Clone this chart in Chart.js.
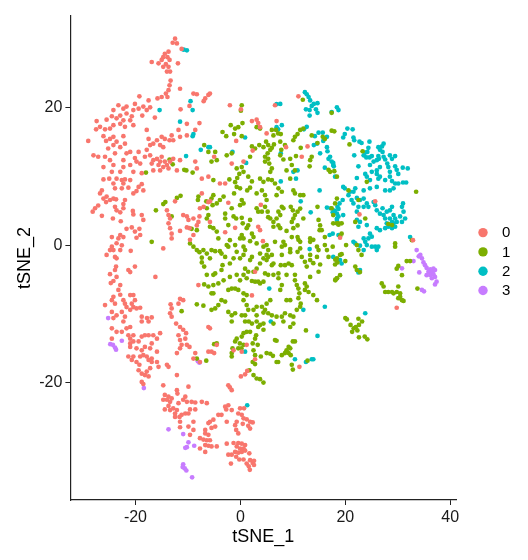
<!DOCTYPE html>
<html>
<head>
<meta charset="utf-8">
<script src="https://cdn.jsdelivr.net/npm/chart.js@4.4.0/dist/chart.umd.min.js"></script>
<style>
  html, body { margin: 0; padding: 0; background: #fff; }
  #wrap { position: relative; width: 528px; height: 560px; }
</style>
</head>
<body>
<div id="wrap"><canvas id="chart" width="528" height="560"></canvas></div>
<script>
// cluster labels + ggplot default hue colours
var clusterNames = ['0', '1', '2', '3'];
var clusterColors = ['#F8766D', '#7CAE00', '#00BFC4', '#C77CFF'];
var xTicks = [-20, 0, 20, 40];
var yTicks = [-20, 0, 20];

// tSNE coordinates, [tSNE_1, tSNE_2]
var cluster0 = [
[-12.45,30.1],[-12.9,29.5],[-12.1,29.4],[-11.2,28.6],[-14.4,27.9],[-13.7,28.2],[-13.9,27.4],[-13.5,27.0],[-14.7,27.4],[-15.0,27.0],[-16.9,26.7],[-15.6,26.5],[-11.9,26.5],[-14.2,26.4],[-13.7,26.0],[-14.7,26.0],[-13.4,25.3],[-14.0,25.3],[-13.3,24.0],[-13.5,23.3],[-13.7,22.6],[-14.2,22.1],[-15.0,21.6],[-15.8,21.4],[-11.5,22.8],[-13.9,21.6],
[-8.95,22.1],[-8.3,22.0],[-6.1,21.9],[-6.7,21.4],[-7.0,21.0],[-9.7,20.3],[-11.4,19.8],[-17.5,21.1],[-19.25,21.7],
[-23.25,20.4],[-24.2,19.7],[-22.3,19.9],[-21.7,20.2],[-20.1,20.6],[-20.4,19.7],[-19.4,19.9],[-18.5,20.2],[-17.85,19.7],[-17.2,20.1],[-16.3,18.6],[-18.7,18.9],[-20.7,18.8],[-21.7,19.2],[-22.9,18.9],[-23.6,18.5],[-24.5,18.8],[-25.5,18.3],[-27.4,18.1],[-26.75,17.25],[-27.5,16.9],[-25.8,16.9],[-24.85,17.0],[-24.2,17.5],[-22.9,17.7],[-22.0,17.25],[-21.0,18.2],[-20.4,17.5],[-22.3,18.2],[-29.0,15.2],[-26.1,15.9],[-24.85,15.5],[-24.2,15.8],[-25.6,15.2],[-23.6,15.1],[-22.3,15.9],[-22.0,14.8],[-22.9,14.3],[-24.2,14.6],[-25.2,14.1],[-23.9,13.4],[-25.8,12.9],[-28.0,13.1],[-27.1,12.9],[-24.85,12.4],[-24.2,11.7],[-26.1,11.4],[-24.5,10.7],[-22.3,12.4],[-21.7,13.4],[-21.0,13.6],[-20.1,12.7],[-19.8,12.2],[-22.3,11.4],[-22.9,10.7],[-21.0,11.7],[-19.1,11.9],[-19.4,13.6],[-17.85,16.8],[-17.5,15.5],[-17.2,14.6],[-17.85,13.9],[-16.6,14.8],[-15.9,15.3],[-15.0,15.8],[-14.4,15.5],[-15.3,14.6],[-14.7,14.3],[-13.1,16.0],[-13.5,15.3],[-12.8,15.3],[-11.8,16.8],[-11.5,15.8],[-10.2,16.0],[-8.6,16.8],[-7.8,17.8],[-10.2,17.7],
[-18.2,12.9],[-17.2,13.1],[-16.6,12.4],[-16.9,11.9],[-15.9,12.6],[-15.3,12.2],[-15.0,12.9],[-14.4,12.2],[-15.6,11.7],[-14.7,11.4],[-14.0,11.7],[-13.4,12.2],[-13.7,11.2],[-16.6,10.9],[-15.3,10.9],[-12.8,12.6],[-11.5,12.4],[-12.1,10.9],[-8.3,11.2],[-8.6,12.2],[-18.8,10.5],[-20.4,10.7],
[-5.8,22.1],[-2.0,20.4],[0.1,19.8],[-0.8,15.2],[2.2,18.1],[3.1,18.3],[3.4,17.8],[3.75,17.2],[6.9,18.1],[5.0,16.3],[2.35,13.8],[0.6,12.2],[-1.65,11.9],[-5.0,12.9],[11.7,12.9],[12.8,14.4],[11.06,21.7],[8.7,14.3],[6.6,20.4],
[-26.1,9.6],[-25.0,9.7],[-24.2,9.0],[-23.6,9.7],[-22.6,9.5],[-22.0,9.6],[-21.0,9.5],[-22.3,9.0],[-22.6,8.3],[-23.9,8.3],[-21.35,8.4],[-19.4,8.5],[-18.8,8.9],[-18.5,8.0],[-19.8,7.9],[-20.4,7.55],[-26.4,8.0],[-26.75,7.55],[-26.1,6.8],[-25.5,7.1],[-24.85,6.6],[-24.2,6.8],[-23.7,6.7],[-25.6,6.3],[-27.1,5.8],[-27.7,5.4],[-28.15,4.9],[-26.4,4.3],[-23.9,5.6],[-23.6,5.1],[-22.9,4.8],[-22.3,6.0],[-22.0,6.6],[-22.3,5.4],[-24.3,3.9],[-22.8,3.5],[-20.5,5.0],[-20.4,4.5],[-18.8,4.4],[-18.5,3.7],[-21.7,2.4],[-20.7,2.6],[-20.1,2.0],[-19.25,2.4],[-19.1,1.5],[-19.8,1.1],[-22.9,1.5],[-23.25,1.0],[-22.3,1.2],[-23.6,0.3],[-22.6,0.0],[-24.5,1.2],[-24.5,-0.2],[-24.85,-0.7],[-25.5,-1.4],[-24.2,-0.7],[-22.9,-0.7],[-20.9,-0.8],[-23.9,-1.7],[-23.6,-1.9],[-23.7,-3.1],[-23.9,-3.6],[-21.35,-3.6],[-21.0,-3.9],[-20.1,-3.1],[-24.85,-4.2],[-23.6,-4.6],[-24.2,-5.2],[-24.7,-5.5],[-22.9,-5.8],[-23.25,-6.5],[-22.9,-7.2],[-24.2,-7.5],[-24.5,-8.0],[-23.9,-8.5],[-22.3,-8.0],[-22.0,-8.5],[-21.7,-9.0],[-21.0,-7.25],[-20.4,-7.25],[-20.1,-8.0],[-20.7,-8.5],[-20.4,-9.0],[-21.0,-9.4],[-22.6,-9.7],[-23.6,-10.2],[-24.5,-9.7],[-25.8,-8.7],[-24.2,-10.6],[-22.0,-10.4],[-19.8,-9.2],[-19.1,-9.1],[-18.8,-10.4],[-16.9,-10.5],[-17.8,-10.6],[-16.2,-4.6],[-14.7,-0.45],[-14.0,5.1],[-13.7,4.4],[-13.4,3.9],[-12.45,6.4],[-10.9,4.4],[-10.2,4.2],[-9.9,3.7],[-8.95,3.9],[-7.8,4.2],[-8.0,3.4],[-8.3,2.9],[-13.7,3.2],[-13.4,2.5],[-13.1,1.7],[-13.1,1.0],[-11.5,2.1],[-9.7,2.5],[-8.95,1.5],[-9.6,0.8],[-10.2,2.6],[-7.35,7.55],[-7.0,5.6],[-6.1,6.3],[-7.7,5.4],[-7.35,9.7],[-6.1,10.0],[-8.0,-5.8],[-13.3,-8.6],[-13.1,-9.2],[-13.4,-9.9],[-11.5,-7.8],[-10.9,-8.0],[-11.8,-8.5],[-13.1,-10.4],
[-3.9,9.0],[-2.9,9.0],[-2.3,6.2],[-5.8,6.4],[3.9,5.9],[3.4,2.7],[3.75,2.2],[4.3,0.6],[-2.9,1.9],[-5.8,3.4],[-1.0,2.55],[2.2,-7.3],[2.8,-3.85],
[25.7,6.4],[22.7,4.5],[19.0,1.1],[29.8,-9.1],[32.9,0.75],
[-24.5,-12.1],[-23.6,-12.6],[-22.6,-12.6],[-21.7,-12.1],[-21.0,-11.9],[-21.35,-13.1],[-21.0,-13.6],[-20.4,-13.1],[-20.4,-14.0],[-21.0,-14.3],[-21.0,-14.8],[-19.8,-15.0],[-19.4,-14.0],[-18.8,-13.3],[-18.2,-13.1],[-17.5,-13.1],[-16.6,-13.1],[-15.9,-13.6],[-15.3,-12.8],[-16.9,-14.3],[-17.2,-15.0],[-18.2,-14.8],[-18.8,-15.3],[-18.5,-16.0],[-19.1,-16.2],[-17.85,-16.2],[-16.9,-16.5],[-16.9,-17.0],[-17.5,-16.7],[-15.9,-15.5],[-20.4,-16.2],[-20.7,-16.7],[-21.35,-16.2],[-19.8,-17.0],[-19.25,-17.4],[-19.4,-18.2],[-18.8,-18.7],[-18.2,-18.9],[-17.5,-19.1],[-17.85,-18.4],[-18.8,-19.9],[-18.5,-20.2],[-17.2,-17.9],[-15.9,-17.0],[-15.6,-17.7],[-14.0,-17.4],[-13.7,-17.7],[-12.1,-18.9],[-14.7,-20.4],[-9.9,-20.6],[-24.5,-13.6],[-22.3,-11.1],[-18.8,-11.1],[-17.5,-11.1],[-12.1,-15.7],[-11.5,-15.0],[-11.2,-14.5],[-11.5,-13.8],[-11.8,-13.1],[-10.5,-13.6],[-10.2,-14.5],[-9.7,-14.8],[-8.6,-15.7],[-8.95,-16.5],[-12.25,-11.4],[-11.5,-11.9],[-10.9,-12.3],[-10.35,-12.8],[-7.7,-17.0],[-6.1,-15.5],[-6.1,-11.9],
[-14.4,-21.8],[-13.7,-22.05],[-14.0,-22.5],[-13.4,-22.8],[-13.1,-22.3],[-14.7,-22.5],[-13.7,-23.4],[-14.4,-23.9],[-13.4,-24.0],[-12.8,-23.75],[-12.1,-24.0],[-11.8,-23.0],[-10.9,-22.5],[-10.5,-22.05],[-10.2,-22.8],[-9.3,-22.8],[-8.6,-22.9],[-8.6,-23.9],[-9.6,-23.9],[-9.9,-24.5],[-10.5,-24.5],[-11.2,-24.7],[-11.6,-25.0],[-12.45,-25.0],[-12.45,-24.5],[-11.5,-25.7],[-11.5,-26.5],[-9.9,-26.4],[-8.95,-25.7],[-8.95,-26.9],[-9.6,-27.6],[-7.35,-22.8],[-6.4,-23.0],[-6.1,-25.9],[-6.7,-26.9],[-6.7,-27.4],[-6.1,-27.6],[-7.7,-28.1],[-7.05,-28.3],[-6.4,-28.4],[-6.7,-29.1],[-6.1,-29.2],[-7.7,-29.6],[-6.7,-30.1],[-12.1,-21.1],[-12.0,-21.6],
[-5.8,-12.1],[-4.5,-14.5],[-5.5,-15.5],[-5.0,-15.7],[-1.3,-15.3],[0.26,-15.5],[1.2,-14.5],[2.8,-16.6],[1.3,-18.3],[0.9,-18.8],[0.1,-19.1],[11.25,-17.7],[-2.3,-20.4],[-2.0,-20.7],[-1.65,-21.1],[-2.3,-23.3],[-2.9,-23.5],[-2.7,-23.9],[-1.65,-24.0],[-0.06,-23.75],[0.7,-23.75],[-0.4,-24.5],[0.26,-24.7],[0.6,-25.2],[1.2,-25.35],[1.85,-25.7],[2.35,-25.8],[1.5,-26.3],[1.85,-26.7],[-0.7,-25.7],[-1.0,-26.2],[-0.8,-26.9],[-0.4,-27.4],[0.45,-26.0],[-4.2,-24.7],[-3.6,-24.7],[-5.15,-25.4],[-5.8,-25.7],[-2.6,-25.7],[-4.8,-26.4],[-5.5,-26.6],[-5.8,-28.4],[-5.5,-29.3],[-4.5,-29.3],[-2.6,-28.9],[-1.3,-28.8],[-0.4,-28.8],[0.26,-28.9],[0.9,-29.1],[-0.7,-29.3],[-0.06,-29.6],[0.6,-29.6],[-1.0,-30.1],[-0.4,-30.2],[0.26,-30.1],[0.9,-29.9],[-2.3,-30.5],[-1.65,-30.5],[-0.8,-30.8],[-0.2,-31.2],[0.6,-31.2],[1.7,-30.3],[1.85,-31.3],[2.35,-31.7],[2.6,-31.4],[1.2,-31.8],[-1.8,-31.8],[1.6,-32.2],[1.8,-32.7],[2.6,-32.0]
];

var cluster1 = [
[-13.5,12.5],[-12.9,11.8],[-10.7,11.0],[-10.3,10.9],[-9.1,10.6],[-18.0,10.6],[-6.9,14.6],[-6.1,13.6],
[0.26,20.4],[0.1,19.6],[-1.84,17.5],[-3.4,16.5],[-2.7,15.9],[-1.0,17.0],[-0.4,17.2],[0.4,17.8],[-1.2,16.2],[0.26,15.9],[3.1,17.2],[3.75,17.0],[2.2,14.4],[2.8,14.1],[3.6,14.6],[4.4,14.3],[4.9,15.1],[5.3,14.6],[6.0,14.2],[6.4,14.7],[5.7,13.9],[5.2,13.4],[4.7,12.9],[5.3,12.6],[5.5,11.9],[6.0,11.2],[5.7,10.7],[4.7,12.2],[7.6,15.1],[7.8,13.9],[8.5,14.6],[7.6,13.1],[8.2,12.5],[9.5,12.6],[9.8,11.7],[8.8,10.9],[10.6,13.0],[10.1,15.3],[10.4,15.8],[10.9,16.2],[11.4,16.8],[12.0,17.0],[11.5,14.2],[13.6,16.0],[14.7,14.9],[13.3,12.4],[13.2,11.5],[13.6,12.9],[15.7,15.8],[16.1,15.5],[17.4,16.7],[17.9,16.6],[16.8,11.0],[17.1,10.7],[11.9,21.2],[1.85,12.9],[-1.65,13.4],[-2.6,13.1],[-0.7,11.2],[0.26,11.4],[0.6,10.7],[-0.2,10.4],[-4.8,13.6],[-4.5,12.4],[-5.5,12.2],[6.0,16.8],[6.8,16.8],[6.3,16.0],[7.2,16.3],[7.7,16.2],[10.4,10.9],
[20.8,14.7],[23.3,13.7],[17.9,10.8],[17.4,19.3],
[-16.1,5.1],[-14.7,6.0],[-14.3,6.3],[-12.1,6.9],[-11.4,7.2],[-13.1,4.2],[-8.0,7.1],[-8.1,6.6],[-6.5,6.4],[-6.4,5.4],[-6.1,4.4],[-6.4,3.9],[-9.3,2.4],[-8.3,2.2],[-9.6,0.27],[-8.95,-0.2],[-8.3,-0.7],[-7.8,-1.0],[-7.05,-0.7],[-6.4,-1.2],[-7.35,-1.8],[-7.35,-2.5],[-6.9,-3.1],[-6.4,-4.3],[-6.9,-5.7],[-6.1,-6.0],[-8.3,-8.6],[-7.05,-8.8],[-11.2,-9.6],[-16.9,0.5],
[-5.15,9.5],[-2.1,9.6],[-0.6,9.8],[1.5,10.0],[2.2,9.3],[1.85,8.4],[1.3,8.0],[3.75,9.7],[4.4,9.25],[5.3,9.6],[6.0,9.5],[4.1,8.0],[3.1,7.55],[4.7,7.3],[5.0,6.6],[10.1,8.0],[10.4,7.55],[11.4,7.3],[12.0,7.3],[7.9,7.8],[6.9,7.3],[9.5,9.7],[-1.2,7.55],[-3.9,6.6],[-4.5,6.1],[-5.3,5.85],[-3.2,7.1],[0.26,6.6],[0.6,6.1],[-0.06,5.85],[3.1,5.4],[3.4,4.9],[4.7,5.6],[5.2,4.9],[5.3,4.1],[5.7,3.9],[7.9,5.6],[8.2,5.4],[9.6,5.6],[10.0,5.1],[10.4,4.4],[10.9,4.9],[11.4,5.35],[10.1,3.9],[9.8,3.4],[10.1,2.5],[10.9,2.9],[12.0,3.9],[14.7,5.6],[14.9,3.7],[15.2,2.9],[15.1,2.2],[15.5,2.2],[16.1,1.2],[13.3,1.0],[13.9,0.8],[13.3,0.5],[18.4,3.2],[18.7,3.0],[-5.8,2.7],[-5.15,2.5],[-4.5,2.0],[-4.2,1.0],[-2.9,4.6],[-2.9,3.9],[-1.65,5.4],[-1.3,4.2],[-0.8,3.9],[0.26,4.0],[0.45,3.2],[1.85,3.7],[1.5,2.9],[0.26,1.5],[-0.06,1.0],[0.6,1.0],[-2.0,0.75],[-2.6,0.03],[-2.3,-0.2],[-1.0,0.03],[-0.7,-0.95],[-5.5,-0.7],[-4.8,-0.85],[-3.9,-0.85],[-3.6,-1.2],[-2.9,-1.7],[-5.8,-1.9],[1.2,2.5],[2.2,1.7],[2.5,1.2],[1.85,0.6],[3.1,0.27],[4.4,-0.2],[5.0,0.03],[5.3,-0.7],[5.0,-1.4],[6.0,-1.4],[6.6,0.5],[7.25,2.9],[7.6,2.5],[8.2,0.5],[7.9,-0.2],[8.5,0.03],[8.8,2.1],[10.9,1.2],[11.06,0.8],[11.4,0.5],[11.4,-0.45],[10.9,-0.95],[9.5,-0.55],[9.5,-1.0],[14.6,-0.2],[14.9,-0.7],[13.3,-1.4],[13.3,-2.15],[13.9,-2.6],[14.6,-1.7],[15.2,-2.8],[14.9,-3.85],[16.1,0.03],[16.5,-0.7],[17.6,-0.2],[18.05,-2.8],[18.4,-4.8],[18.1,-5.1],[16.8,-1.7],[0.6,-0.2],[0.9,-0.7],[0.6,-1.4],[-0.06,-1.9],[-1.3,-1.9],[-2.0,-2.65],[-3.4,-2.9],[-3.6,-3.6],[-4.8,-4.1],[-5.15,-4.3],[2.2,-1.7],[1.85,-2.15],[3.75,-1.2],[4.4,-1.9],[5.0,-2.15],[5.3,-1.7],[6.0,-2.9],[6.3,-2.65],[7.9,-1.4],[7.7,-2.9],[8.5,-2.9],[9.2,-2.65],[9.8,-2.9],[3.75,-2.65],[3.1,-3.4],[2.5,-3.85],[1.5,-3.85],[0.9,-3.4],[0.6,-4.3],[1.2,-4.8],[2.2,-5.2],[2.8,-5.3],[3.4,-5.3],[3.75,-5.55],[4.4,-5.3],[4.7,-4.1],[5.3,-4.3],[6.3,-4.3],[7.25,-4.1],[7.25,-4.8],[7.9,-5.8],[7.6,-6.5],[8.8,-4.3],[10.4,-4.3],[10.4,-5.1],[10.75,-5.8],[11.06,-6.3],[12.3,-5.55],[12.65,-6.0],[13.0,-6.8],[12.3,-6.5],[11.25,-7.0],[11.06,-7.7],[11.5,-8.5],[11.4,-8.95],[10.75,-9.4],[9.5,-8.0],[8.8,-8.0],[8.5,-9.9],[7.9,-10.4],[6.9,-10.4],[9.5,-10.2],[10.1,-10.4],[5.7,-8.0],[5.0,-8.5],[4.7,-9.4],[4.4,-9.8],[5.3,-9.9],[6.0,-10.2],[4.1,-8.95],[3.1,-8.95],[2.5,-9.4],[1.5,-9.4],[1.2,-8.7],[0.6,-8.0],[1.2,-7.25],[0.6,-7.0],[-0.4,-6.5],[-1.0,-6.3],[-1.65,-6.3],[-2.3,-6.5],[-0.06,-5.1],[-0.7,-4.3],[-2.0,-4.6],[-3.2,-5.1],[-4.2,-5.55],[-5.15,-5.8],[-5.5,-7.0],[-5.15,-7.0],[-3.6,-8.0],[-4.2,-8.7],[-4.8,-9.2],[-5.5,-9.4],[-2.9,-8.2],[-2.3,-9.7],[-1.65,-10.2],[-1.0,-9.9],[0.26,-10.2],[0.9,-10.2],[3.1,-10.2],[12.65,-3.1],[14.6,-8.0],[13.9,-7.25],[13.3,-4.6],[9.8,1.2],[6.6,9.0],[7.25,8.3],[-0.06,8.3],[-0.7,8.5],[-1.0,9.2],[-5.15,7.3],[-5.5,6.8],[-2.3,2.95],[7.25,4.9],[7.6,4.4],[6.9,3.9],[6.3,3.4],[6.3,2.7],[4.1,4.9],[11.7,-1.7],[12.3,-2.4],
[18.4,10.0],[24.1,9.25],[33.5,7.8],[18.4,6.8],[18.05,6.1],[17.4,5.4],[17.7,4.4],[18.7,3.2],[19.3,3.2],[17.7,3.2],[22.5,6.6],[21.9,3.4],[23.8,3.9],[19.3,1.7],[19.0,1.3],[20.15,0.03],[22.2,0.03],[22.5,-0.7],[23.1,-1.4],[20.6,8.0],[19.0,-1.4],[19.3,-1.3],[18.4,-1.9],[18.1,-2.1],[18.5,-2.5],[20.0,-2.3],[21.9,-3.1],[22.2,-3.6],[22.8,-3.9],[19.0,-4.35],[18.4,-4.8],[18.1,-5.0],[29.5,0.27],[29.5,-0.2],[32.7,0.75],[28.9,2.95],[28.2,3.1],[30.1,-3.0],[29.8,-3.4],[30.8,-4.35],[31.7,-2.3],[32.35,-2.3],[26.95,-5.55],[27.3,-6.0],[27.6,-6.8],[28.2,-6.8],[28.9,-6.8],[29.2,-7.0],[29.8,-6.8],[30.1,-6.0],[30.45,-7.5],[30.1,-7.7],[30.8,-8.0],[31.1,-8.1],[33.75,-6.3],[30.45,-7.0],
[20.0,-10.6],[22.5,-10.7],[20.3,-10.8],[21.0,-11.6],[21.6,-12.1],[21.3,-12.6],[22.0,-11.9],[22.6,-11.6],[23.2,-11.1],[22.3,-12.4],[22.6,-13.4],[23.7,-13.3],[24.2,-13.7],
[-8.3,-16.5],[-6.5,-16.8],
[-1.65,-11.1],[0.9,-11.1],[1.6,-11.1],[2.2,-11.4],[3.1,-11.1],[3.75,-11.6],[4.4,-11.4],[3.4,-11.9],[4.4,-12.3],[6.3,-11.4],[8.2,-11.1],[9.5,-11.9],[10.1,-11.4],[12.5,-12.4],[1.2,-12.6],[1.85,-12.6],[0.6,-12.8],[0.26,-13.3],[-0.7,-13.6],[-1.0,-14.0],[-0.1,-14.3],[0.6,-14.5],[-0.4,-15.0],[0.2,-15.0],[-1.5,-15.0],[-1.65,-15.7],[-1.65,-16.2],[-4.5,-14.3],[-5.0,-14.4],[3.0,-13.1],[2.8,-13.6],[2.35,-14.3],[3.3,-14.5],[2.5,-15.3],[2.8,-16.0],[2.35,-17.0],[2.8,-17.3],[1.7,-18.2],[2.5,-18.9],[3.1,-19.4],[3.75,-19.5],[4.4,-20.0],[3.9,-16.2],[5.0,-15.7],[5.7,-15.8],[6.2,-16.1],[6.6,-13.8],[6.9,-13.9],[6.9,-17.0],[7.2,-17.0],[7.9,-16.0],[8.5,-15.7],[8.8,-15.3],[9.2,-14.8],[9.5,-15.0],[9.2,-15.7],[9.6,-16.0],[10.0,-14.0],[10.4,-14.0],[9.8,-17.4],[10.0,-18.1],[12.8,-16.8]
];

var cluster2 = [
[-10.2,28.4],[-10.8,28.5],[-9.5,21.0],[-9.1,19.7],[-11.5,18.0],[-8.95,16.2],[-9.1,15.9],[-10.35,13.0],[-7.55,13.9],[-6.1,14.3],[-15.4,19.7],
[12.3,22.3],[12.65,22.0],[13.0,21.6],[13.3,21.1],[14.0,20.6],[14.7,20.7],[13.6,20.3],[12.5,19.8],[13.2,19.7],[14.4,19.8],[14.7,19.3],[13.2,18.9],[17.4,19.4],[18.4,20.1],[18.7,19.7],[6.9,20.55],[7.6,20.6],[7.9,17.5],[6.9,17.2],[7.2,16.9],[12.65,17.25],[12.1,16.9],[14.9,16.4],[14.2,15.9],[15.7,16.4],[15.8,15.2],[16.5,15.8],[14.0,14.6],[14.6,14.8],[15.2,13.4],[16.5,14.3],[16.6,13.7],[16.8,12.6],[16.1,11.3],[17.7,12.0],[17.8,11.5],[10.1,10.7],[10.9,10.9],[0.9,15.7],[-1.5,13.6],[1.1,12.0],[7.7,13.4],[-5.8,14.3],
[20.4,17.0],[21.4,16.9],[19.9,16.2],[19.6,15.7],[21.55,15.7],[21.7,15.3],[22.7,15.1],[23.1,14.9],[24.6,15.1],[27.3,14.8],[27.0,14.4],[26.3,14.3],[26.6,13.9],[27.1,13.6],[24.4,14.2],[24.2,13.6],[23.8,13.5],[23.5,13.1],[24.0,12.8],[24.6,12.8],[25.05,13.0],[25.4,12.2],[26.0,12.4],[26.3,13.0],[26.4,12.6],[27.3,12.9],[27.6,12.5],[28.5,13.1],[29.5,13.0],[28.9,12.6],[28.0,11.9],[28.2,11.4],[29.5,11.5],[29.8,11.0],[30.95,11.3],[31.9,11.2],[24.7,11.7],[26.6,11.4],[26.0,10.9],[25.05,10.7],[22.5,11.5],[21.7,13.1],[17.1,12.9],[17.4,12.2],[17.7,11.7],[23.8,10.4],[28.5,10.7],[30.1,10.4],[26.0,10.4],
[7.7,9.3],[15.1,8.0],[11.5,6.4],[13.4,4.8],[16.5,5.5],[17.2,5.4],[17.6,4.8],[18.0,5.0],[18.7,5.3],[18.7,4.2],[18.4,3.7],[17.0,1.5],[17.6,1.7],[18.7,1.5],[13.2,-0.55],[17.7,-1.7],[5.5,-6.3],[12.0,-9.4],[16.1,-8.95],[10.6,9.7],
[18.05,10.0],[22.2,9.8],[24.1,10.0],[24.7,9.5],[26.3,9.7],[26.6,10.0],[27.6,9.5],[28.5,10.0],[28.9,9.35],[29.5,9.0],[30.1,9.0],[31.0,9.15],[31.6,9.15],[29.2,8.3],[28.5,8.0],[27.6,8.0],[26.0,8.5],[24.7,8.3],[23.5,8.0],[21.9,8.3],[21.55,7.8],[20.9,7.8],[20.6,7.3],[21.2,6.6],[21.55,6.1],[22.2,6.9],[22.8,6.6],[23.5,6.8],[24.1,6.1],[24.4,5.6],[23.5,5.6],[22.5,5.6],[22.2,4.9],[19.6,8.5],[19.9,8.3],[19.5,6.6],[18.9,6.1],[18.5,5.6],[19.6,4.4],[18.4,4.6],[18.4,3.9],[17.9,5.0],[25.4,6.3],[25.7,5.85],[26.0,5.1],[26.6,4.6],[27.3,4.4],[27.6,3.9],[27.1,5.4],[27.9,4.9],[28.5,5.1],[28.9,5.6],[29.2,4.4],[29.5,3.9],[28.5,3.9],[28.9,3.4],[29.2,3.2],[29.8,3.4],[30.45,4.2],[31.1,4.9],[30.8,5.6],[31.0,6.1],[31.4,3.9],[30.8,3.4],[27.9,3.2],[27.6,2.5],[26.6,2.2],[26.0,2.5],[28.9,2.5],[29.5,2.7],[28.2,2.7],[22.2,3.7],[22.8,3.4],[22.5,2.7],[24.1,2.95],[23.5,1.0],[23.8,0.5],[24.1,0.03],[24.4,1.0],[25.05,-0.2],[25.7,-0.2],[26.3,-0.2],[26.0,-0.7],[24.7,1.7],[25.05,1.25],[23.5,-0.7],[21.9,0.27],[21.55,0.5],[22.8,-0.05],[19.0,-2.15],[19.3,-2.65],[22.8,-3.6],[22.5,-3.95],[32.35,1.2],[23.8,-9.9],
[5.8,-11.1],[14.7,-13.2],[0.9,-15.5],[10.4,-16.6],[12.5,-17.0],[13.6,-16.6],[13.9,-16.6],[1.3,-23.3]
];

var cluster3 = [
[-25.2,-10.6],[-24.8,-14.4],[-24.3,-14.5],[-23.9,-14.9],[-23.7,-15.2],[-22.6,-13.9],[-18.4,-20.8],[-13.7,-26.8],[-10.9,-27.5],[-9.9,-28.7],[-10.2,-29.4],[-10.5,-29.5],[-8.8,-29.2],[-10.9,-31.9],[-7.8,-17.1],[-8.1,-16.9],
[-10.6,-32.5],[-10.3,-32.8],[-11.0,-32.3],[-9.2,-33.8],
[33.6,-0.7],[34.3,-1.4],[34.6,-1.9],[34.0,-1.6],[33.0,-2.3],[34.9,-2.5],[35.2,-2.9],[35.5,-3.3],[36.2,-3.5],[36.8,-3.4],[37.1,-3.6],[36.5,-3.85],[35.85,-3.85],[35.5,-4.35],[36.2,-4.35],[36.8,-4.2],[37.1,-4.6],[36.5,-4.8],[37.4,-5.3],[37.1,-5.7],[34.1,-3.95],[30.8,-3.35],[34.6,-6.5],[35.0,-6.7]
];

var clusters = [cluster0, cluster1, cluster2, cluster3];

var datasets = clusters.map(function (pts, i) {
  return {
    label: clusterNames[i],
    data: pts.map(function (p) { return { x: p[0], y: p[1] }; }),
    backgroundColor: clusterColors[i],
    borderWidth: 0,
    pointRadius: 2.35,
    pointHoverRadius: 2.35
  };
});

// ggplot-style legend on the right
var sideLegend = {
  id: 'sideLegend',
  afterDraw: function (chart) {
    var ctx = chart.ctx;
    ctx.save();
    ctx.font = '15px "Liberation Sans", Arial, sans-serif';
    ctx.textBaseline = 'middle';
    chart.data.datasets.forEach(function (ds, i) {
      var y = 232.6 + i * 19.3;
      ctx.beginPath();
      ctx.arc(483, y, 4.7, 0, Math.PI * 2);
      ctx.fillStyle = ds.backgroundColor;
      ctx.fill();
      ctx.fillStyle = '#000';
      ctx.fillText(ds.label, 502, y + 0.5);
    });
    ctx.restore();
  }
};

var tickFont = { family: '"Liberation Sans", Arial, sans-serif', size: 16 };
var titleFont = { family: '"Liberation Sans", Arial, sans-serif', size: 18 };

var ctx = document.getElementById('chart').getContext('2d');
var chart = new Chart(ctx, {
  type: 'scatter',
  data: { datasets: datasets },
  options: {
    responsive: false,
    animation: false,
    layout: { padding: { left: 0, right: 72, top: 16, bottom: 0 } },
    plugins: { legend: { display: false }, tooltip: { enabled: false } },
    scales: {
      x: {
        type: 'linear',
        min: -32.4,
        max: 41.1,
        afterBuildTicks: function (s) { s.ticks = xTicks.map(function (v) { return { value: v }; }); },
        afterFit: function (s) { s.height = 60; },
        ticks: { font: tickFont, color: '#1a1a1a', padding: 3 },
        grid: { display: true, drawOnChartArea: false, drawTicks: true, tickLength: 5, tickColor: '#222', tickWidth: 1 },
        border: { display: true, color: '#222', width: 1.2 },
        title: { display: true, text: 'tSNE_1', font: titleFont, color: '#000', padding: { top: 0, bottom: 12 } }
      },
      y: {
        type: 'linear',
        min: -37.1,
        max: 33.4,
        afterBuildTicks: function (s) { s.ticks = yTicks.map(function (v) { return { value: v }; }); },
        afterFit: function (s) { s.width = 70.4; },
        ticks: { font: tickFont, color: '#1a1a1a', padding: 3 },
        grid: { display: true, drawOnChartArea: false, drawTicks: true, tickLength: 5, tickColor: '#222', tickWidth: 1 },
        border: { display: true, color: '#222', width: 1.2 },
        title: { display: true, text: 'tSNE_2', font: titleFont, color: '#000', padding: { top: 14, bottom: 0 } }
      }
    }
  },
  plugins: [sideLegend]
});
</script>
</body>
</html>
